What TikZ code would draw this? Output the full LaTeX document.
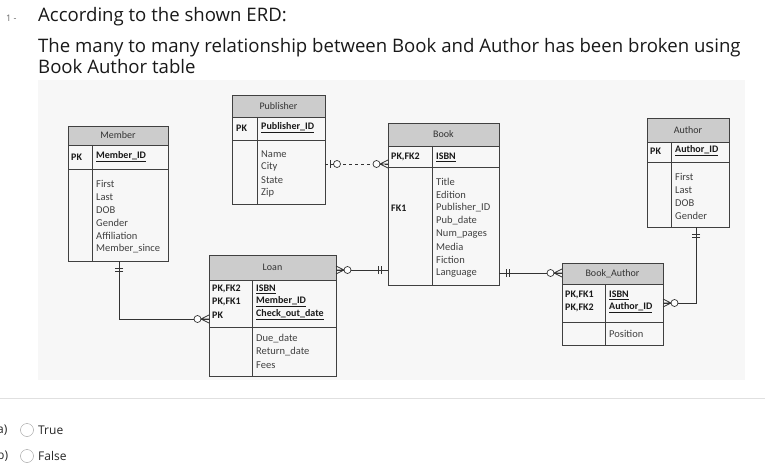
\documentclass[tikz,border=0pt]{standalone}
\usepackage{fontspec}
\setmainfont{Open Sans}
\newfontfamily\tblfont{Carlito}
\begin{document}
\begin{tikzpicture}[x=1pt,y=-1pt,
  hdr/.style={fill=gray!40,draw=black!75,line width=0.6pt},
  box/.style={draw=black!75,line width=0.6pt},
  ttl/.style={font=\tblfont\fontsize{10}{11}\selectfont,text=black!80},
  key/.style={font=\tblfont\bfseries\fontsize{10}{11}\selectfont,anchor=west,text=black!90,inner sep=0},
  att/.style={font=\tblfont\fontsize{10.5}{11}\selectfont,anchor=west,text=black!75,inner sep=0},
  conn/.style={draw=black!80,line width=0.7pt},
  q/.style={font=\fontsize{18.6}{22}\selectfont,anchor=west,inner sep=0,text=black!90},
  opt/.style={font=\fontsize{12}{14}\selectfont,anchor=west,inner sep=0,text=black!85}]
\useasboundingbox (0,0) rectangle (765,473);
\fill[white] (0,0) rectangle (765,473);
\fill[black!3] (38,80) rectangle (745,380);
\draw[black!12] (0,398) -- (765,398);
% question text
\node[anchor=west,inner sep=0,font=\fontsize{9}{10}\selectfont,text=black!60] (num) at (6,18) {1 -};
\node[q] (q1) at (38,17) {According to the shown ERD:};
\node[q] (q2) at (38,48) {The many to many relationship between Book and Author has been broken using};
\node[q] (q3) at (38,67) {Book Author table};
% options
\node[opt] (oa) at (-3,430) {a)};
\draw[black!40,fill=white] (27,430) circle (6.5);
\node[opt] (ta) at (38,430) {True};
\node[opt] (ob) at (-3,456) {b)};
\draw[black!40,fill=white] (27,456) circle (6.5);
\node[opt] (tb) at (38,456) {False};
% table macro
\newcommand\erdtbl[8]{%
  \filldraw[hdr] (#1,#3) rectangle (#2,#4);
  \draw[box] (#1,#4) rectangle (#2,#6);
  \draw[box] (#1,#5) -- (#2,#5);
  \draw[box] (#7,#4) -- (#7,#6);
  \node[ttl] at ({(#1+#2)/2},{(#3+#4)/2}) {#8};}
% Member
\erdtbl{68}{168}{126}{145}{169}{261}{92}{Member}
\node[key] at (71,157) {PK};
\node[key] at (96,157) {\underline{Member\_ID}};
\foreach \t [count=\i from 0] in {First,Last,DOB,Gender,Affiliation,Member\_since}
  \node[att] at (96,{184+13*\i}) {\t};
% Publisher
\erdtbl{232}{325}{95}{117}{140}{204}{257}{Publisher}
\node[key] at (236,128) {PK};
\node[key] at (261,128) {\underline{Publisher\_ID}};
\foreach \t [count=\i from 0] in {Name,City,State,Zip}
  \node[att] at (261,{154+13*\i}) {\t};
% Loan
\erdtbl{209}{336}{255}{280}{327}{376}{252}{Loan}
\node[key] at (212,289) {PK,FK2};
\node[key] at (212,302) {PK,FK1};
\node[key] at (212,315) {PK};
\node[key] at (256,289) {\underline{ISBN}};
\node[key] at (256,302) {\underline{Member\_ID}};
\node[key] at (256,315) {\underline{Check\_out\_date}};
\foreach \t [count=\i from 0] in {Due\_date,Return\_date,Fees}
  \node[att] at (256,{339+13*\i}) {\t};
% Book
\erdtbl{388}{499}{123}{146}{167}{285}{432}{Book}
\node[key] at (391,157) {PK,FK2};
\node[key] at (436,157) {\underline{ISBN}};
\node[key] at (391,208) {FK1};
\foreach \t [count=\i from 0] in {Title,Edition,Publisher\_ID,Pub\_date,Num\_pages,Media,Fiction,Language}
  \node[att] at (436,{182+13*\i}) {\t};
% Author
\erdtbl{647}{729}{118}{142}{162}{227}{671}{Author}
\node[key] at (650,151) {PK};
\node[key] at (675,151) {\underline{Author\_ID}};
\foreach \t [count=\i from 0] in {First,Last,DOB,Gender}
  \node[att] at (675,{177+13*\i}) {\t};
% Book_Author
\erdtbl{562}{663}{263}{284}{322}{345}{605}{Book\_Author}
\node[key] at (565,295) {PK,FK1};
\node[key] at (565,308) {PK,FK2};
\node[key] at (609,295) {\underline{ISBN}};
\node[key] at (609,308) {\underline{Author\_ID}};
\node[att] at (609,334) {Position};
% connector end points
\coordinate (pubR) at (325,164); \coordinate (bookL1) at (388,164);
\coordinate (loanR) at (336,270); \coordinate (bookL2) at (388,270);
\coordinate (memB) at (119,261); \coordinate (mlc) at (119,319); \coordinate (loanL) at (209,319);
\coordinate (bookR) at (499,273); \coordinate (baL) at (562,273);
\coordinate (autB) at (696,227); \coordinate (abc) at (696,303); \coordinate (baR) at (663,303);
\draw[conn,dashed] (pubR) -- (bookL1);
\draw[conn] (loanR) -- (bookL2);
\draw[conn] (memB) -- (mlc) -- (loanL);
\draw[conn] (bookR) -- (baL);
\draw[conn] (autB) -- (abc) -- (baR);
% symbols
\newcommand\crowO[2]{\begin{scope}[shift={#1},rotate=#2,conn]
  \draw (8,0) -- (0,-4) (8,0) -- (0,0) (8,0) -- (0,4);
  \draw[fill=white] (11.5,0) circle (3.5);\end{scope}}
\newcommand\bars[2]{\begin{scope}[shift={#1},rotate=#2,conn]
  \draw (7,-4) -- (7,4) (10,-4) -- (10,4);\end{scope}}
\newcommand\barO[2]{\begin{scope}[shift={#1},rotate=#2,conn]
  \draw (5,-4) -- (5,4);
  \draw[fill=white] (12,0) circle (3.5);\end{scope}}
\barO{(pubR)}{0}
\crowO{(bookL1)}{180}
\crowO{(loanR)}{0}
\bars{(bookL2)}{180}
\bars{(memB)}{-90}
\crowO{(loanL)}{180}
\bars{(bookR)}{0}
\crowO{(baL)}{180}
\bars{(autB)}{-90}
\crowO{(baR)}{0}
\end{tikzpicture}
\end{document}
